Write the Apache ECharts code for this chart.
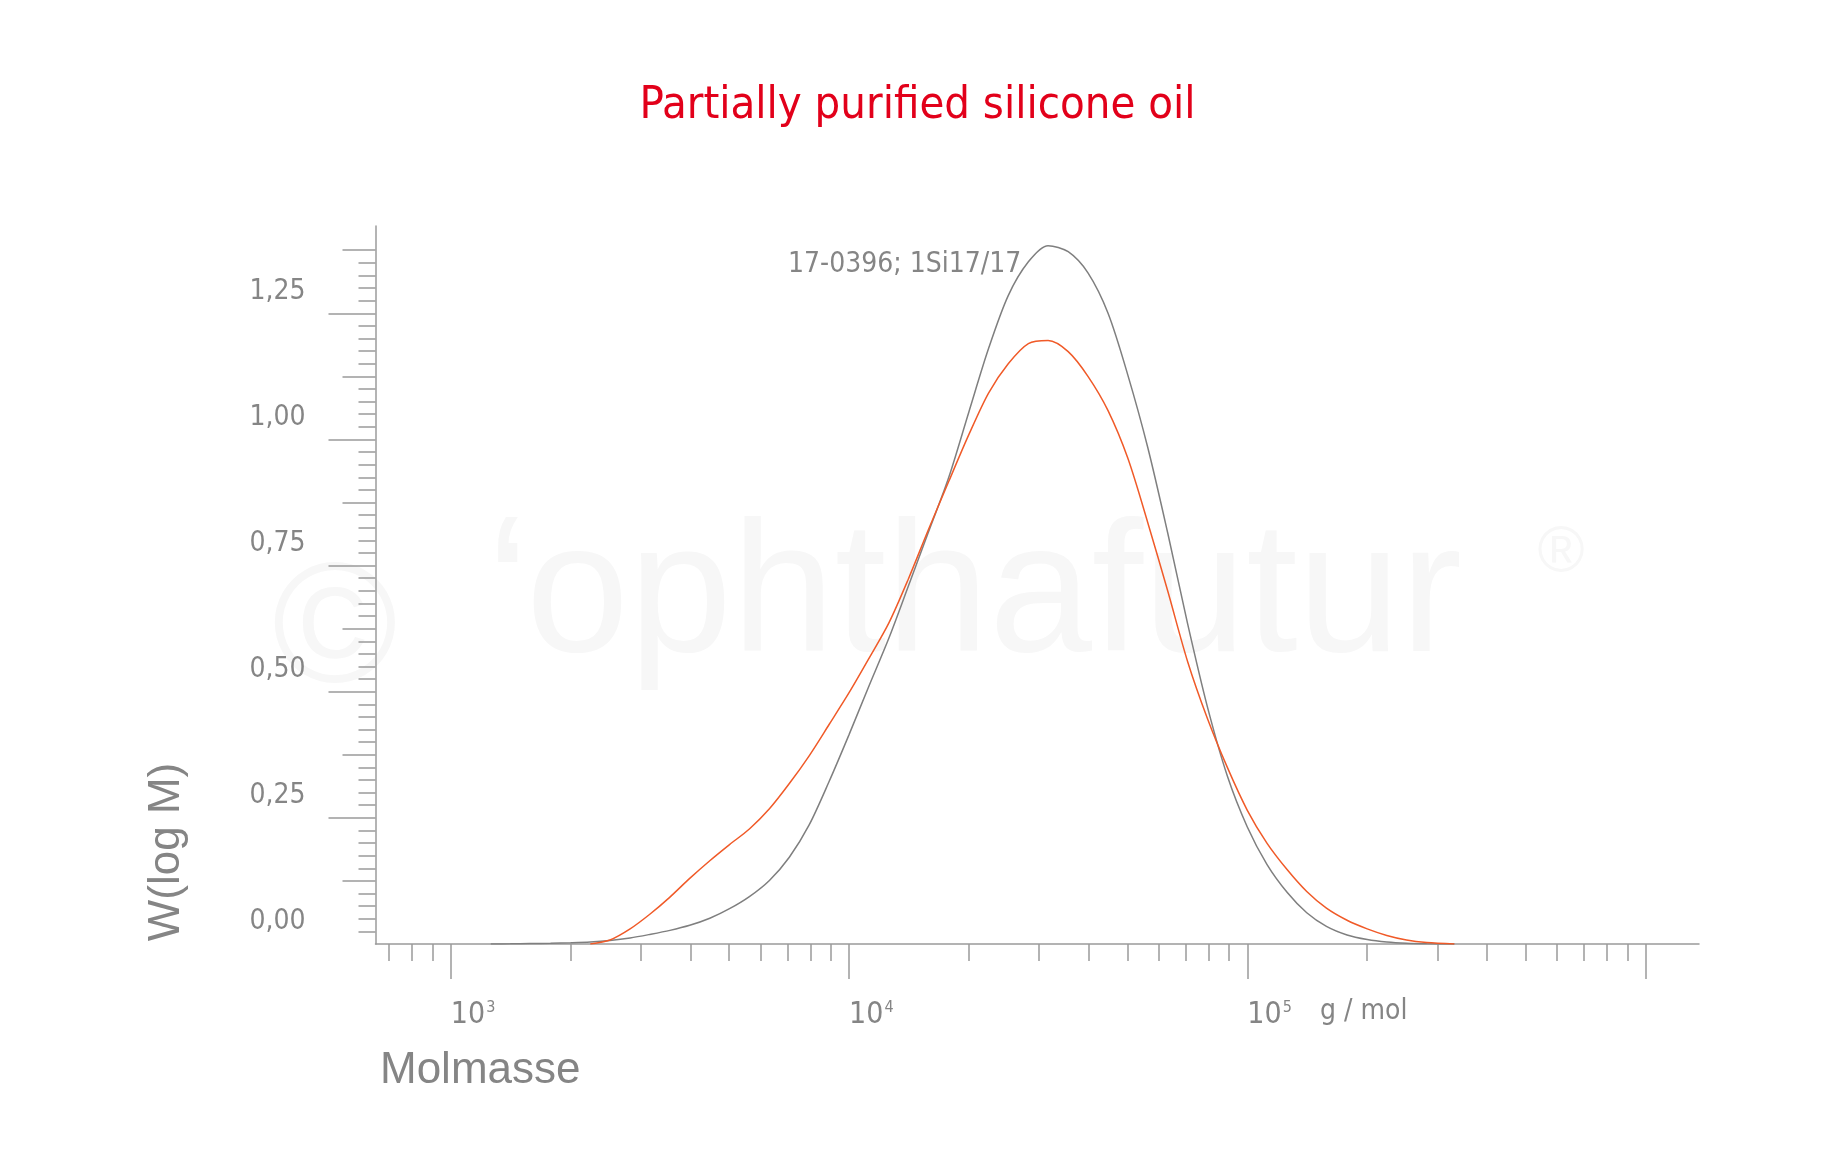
<!DOCTYPE html>
<html>
<head>
<meta charset="utf-8">
<script src="https://cdn.jsdelivr.net/npm/echarts@6/dist/echarts.min.js"></script>
<style>
html,body{margin:0;padding:0;background:#fff;}
#chart{width:1835px;height:1168px;}
</style>
</head>
<body>
<div id="chart"></div>
<script>
// ---------- data ----------
const chartTitle = 'Partially purified silicone oil';
const grayName = '17-0396; 1Si17/17';
const orangeName = 'Partially purified';

// molar mass (g/mol) and W(log M) of the grey curve
const grayM = [1260, 1410, 1580, 1780, 2000, 2240, 2510, 2820, 3160, 3550, 3980, 4470, 5010, 5620, 6310, 7080, 7940, 8910, 10000, 11200, 12600, 14100, 15800, 17800, 20000, 22400, 25100, 28200, 31600, 35500, 39800, 44700, 50100, 56200, 63100, 70800, 79400, 89100, 100000, 112000, 126000, 141000, 158000, 178000, 200000, 224000, 251000, 282000, 331000];
const grayW = [0, 0.0003, 0.001, 0.0015, 0.0025, 0.004, 0.007, 0.012, 0.019, 0.027, 0.037, 0.051, 0.070, 0.094, 0.126, 0.172, 0.236, 0.322, 0.415, 0.510, 0.607, 0.710, 0.815, 0.925, 1.055, 1.180, 1.285, 1.352, 1.384, 1.372, 1.330, 1.250, 1.128, 0.985, 0.815, 0.635, 0.470, 0.333, 0.232, 0.158, 0.102, 0.062, 0.035, 0.018, 0.009, 0.004, 0.0015, 0.0005, 0];

// molar mass (g/mol) and W(log M) of the orange curve
const orangeM = [2240, 2510, 2820, 3160, 3550, 3980, 4470, 5010, 5620, 6310, 7080, 7940, 8910, 10000, 11200, 12600, 14100, 15800, 17800, 20000, 22400, 25100, 28200, 31600, 35500, 39800, 44700, 50100, 56200, 63100, 70800, 79400, 89100, 100000, 112000, 126000, 141000, 158000, 178000, 200000, 224000, 251000, 282000, 331000];
const orangeW = [0, 0.008, 0.030, 0.059, 0.093, 0.130, 0.165, 0.197, 0.228, 0.268, 0.318, 0.373, 0.435, 0.498, 0.565, 0.637, 0.724, 0.820, 0.917, 1.010, 1.092, 1.150, 1.190, 1.196, 1.174, 1.125, 1.057, 0.963, 0.836, 0.700, 0.560, 0.447, 0.350, 0.265, 0.200, 0.147, 0.104, 0.071, 0.047, 0.030, 0.017, 0.008, 0.003, 0];

// axis ticks
const yLabelValues = [0, 0.25, 0.5, 0.75, 1.0, 1.25];
const yMajorTicks = [0.25, 0.5, 0.75, 1.0, 1.25];
const yMediumTicks = [0.125, 0.375, 0.625, 0.875, 1.125, 1.375];
const yMinorStep = 0.025;
const yMinorLast = 1.375;
const xDecadeTicks = [1e3, 1e4, 1e5, 1e6];
const xDecadeLabels = [1e3, 1e4, 1e5];
const xMinorMultipliers = [2, 3, 4, 5, 6, 7, 8, 9];
const xMinorDecades = [1e2, 1e3, 1e4, 1e5];
const xMin = 647, xMax = 1.362e6;
const yMin = 0, yMax = 1.423;

// ---------- derived ----------
const lg = Math.log10;
const xMinorTicks = [];
xMinorDecades.forEach(d => xMinorMultipliers.forEach(m => {
  const v = d * m;
  if (v > xMin && v < xMax) xMinorTicks.push(lg(v));
}));
const yMinorTicks = [];
for (let k = 1; k * yMinorStep <= yMinorLast + 1e-9; k++) {
  if (k % 5 !== 0) yMinorTicks.push(+(k * yMinorStep).toFixed(3));
}

const GREY = '#9b9b9b';
const TEXT = '#858585';
const NARROW = "'DejaVu Sans Condensed', 'Liberation Sans Narrow', 'Roboto', sans-serif";
const WIDE = "'Liberation Sans', 'Open Sans', sans-serif";
const WM = '#f7f7f7';

const baseX = {gridIndex: 0, position: 'bottom', offset: 0, splitLine: {show: false}};
const baseY = {gridIndex: 0, position: 'left', offset: 0, min: yMin, max: yMax, splitLine: {show: false}};

const chart = echarts.init(document.getElementById('chart'), null, {renderer: 'canvas'});
chart.setOption({
  animation: false,
  backgroundColor: '#ffffff',
  title: {
    text: chartTitle,
    left: 'center',
    top: 79,
    textStyle: {color: '#e2001a', fontFamily: NARROW, fontSize: 45, fontWeight: 'normal'}
  },
  legend: {
    data: [{name: grayName, icon: 'none'}],
    left: 783,
    top: 251,
    padding: 0,
    itemWidth: 0,
    selectedMode: false,
    textStyle: {color: TEXT, fontFamily: NARROW, fontSize: 28}
  },
  grid: {left: 375.5, right: 136, top: 226, bottom: 224, containLabel: false, outerBoundsMode: 'none'},
  xAxis: [
    Object.assign({}, baseX, {
      type: 'log', logBase: 10, min: xMin, max: xMax,
      axisLine: {show: true, lineStyle: {color: GREY, width: 1.5}},
      axisTick: {show: false}, axisLabel: {show: false}
    }),
    Object.assign({}, baseX, {
      type: 'value', min: lg(xMin), max: lg(xMax),
      axisLine: {show: false},
      axisTick: {show: true, customValues: xDecadeTicks.map(lg), length: 35, lineStyle: {color: GREY, width: 1.5}},
      axisLabel: {
        show: true, customValues: xDecadeLabels.map(lg), align: 'left', margin: 56,
        formatter: v => '{b|10}{s|' + Math.round(v) + '}',
        rich: {
          b: {color: TEXT, fontFamily: NARROW, fontSize: 30, lineHeight: 30},
          s: {color: TEXT, fontFamily: NARROW, fontSize: 16, lineHeight: 30, verticalAlign: 'top', padding: [0, 0, 0, 1]}
        }
      }
    }),
    Object.assign({}, baseX, {
      type: 'value', min: lg(xMin), max: lg(xMax),
      axisLine: {show: false},
      axisTick: {show: true, customValues: xMinorTicks, length: 17, lineStyle: {color: GREY, width: 1.5}},
      axisLabel: {show: false}
    })
  ],
  yAxis: [
    Object.assign({}, baseY, {
      type: 'value',
      axisLine: {show: true, lineStyle: {color: GREY, width: 1.5}},
      axisTick: {show: true, customValues: yMajorTicks, length: 47, lineStyle: {color: GREY, width: 1.5}},
      axisLabel: {
        show: true, customValues: yLabelValues, margin: 70,
        verticalAlign: 'bottom', lineHeight: 44,
        formatter: v => v.toFixed(2).replace('.', ','),
        color: TEXT, fontFamily: NARROW, fontSize: 28
      }
    }),
    Object.assign({}, baseY, {
      type: 'value',
      axisLine: {show: false},
      axisTick: {show: true, customValues: yMediumTicks, length: 33, lineStyle: {color: GREY, width: 1.5}},
      axisLabel: {show: false}
    }),
    Object.assign({}, baseY, {
      type: 'value',
      axisLine: {show: false},
      axisTick: {show: true, customValues: yMinorTicks, length: 17, lineStyle: {color: GREY, width: 1.5}},
      axisLabel: {show: false}
    })
  ],
  graphic: [
    {type: 'text', z: -10, silent: true, x: 335, y: 635, style: {text: '©', fill: WM, font: "170px 'Liberation Sans', sans-serif", textAlign: 'center', textVerticalAlign: 'middle'}},
    {type: 'text', z: -10, silent: true, x: 508, y: 600, style: {text: '‘', fill: WM, font: "200px 'Liberation Sans', sans-serif", textAlign: 'center', textVerticalAlign: 'middle'}},
    {type: 'text', z: -10, silent: true, x: 526, y: 600, style: {text: 'ophthafutur', fill: WM, font: "185px 'Liberation Sans', sans-serif", textAlign: 'left', textVerticalAlign: 'middle'}},
    {type: 'text', z: -10, silent: true, x: 1561, y: 553, style: {text: '®', fill: WM, font: "64px 'Liberation Sans', sans-serif", textAlign: 'center', textVerticalAlign: 'middle'}},
    {type: 'text', silent: true, x: 167, y: 852, rotation: Math.PI / 2, style: {text: 'W(log M)', fill: TEXT, font: "44px " + WIDE, textAlign: 'center', textVerticalAlign: 'middle'}},
    {type: 'text', silent: true, x: 380, y: 1071, style: {text: 'Molmasse', fill: TEXT, font: "44px " + WIDE, textAlign: 'left', textVerticalAlign: 'middle'}},
    {type: 'text', silent: true, x: 1320, y: 1012, style: {text: 'g / mol', fill: TEXT, font: "28px " + NARROW, textAlign: 'left', textVerticalAlign: 'middle'}}
  ],
  series: [
    {
      name: grayName, type: 'line', xAxisIndex: 0, yAxisIndex: 0,
      data: grayM.map((m, i) => [m, grayW[i]]),
      smooth: 0.3, showSymbol: false, symbol: 'none',
      lineStyle: {color: '#7f7f7f', width: 1.5}, itemStyle: {color: '#7f7f7f'}, z: 3
    },
    {
      name: orangeName, type: 'line', xAxisIndex: 0, yAxisIndex: 0,
      data: orangeM.map((m, i) => [m, orangeW[i]]),
      smooth: 0.3, showSymbol: false, symbol: 'none',
      lineStyle: {color: '#f05a28', width: 1.5}, itemStyle: {color: '#f05a28'}, z: 4
    }
  ]
});
</script>
</body>
</html>
